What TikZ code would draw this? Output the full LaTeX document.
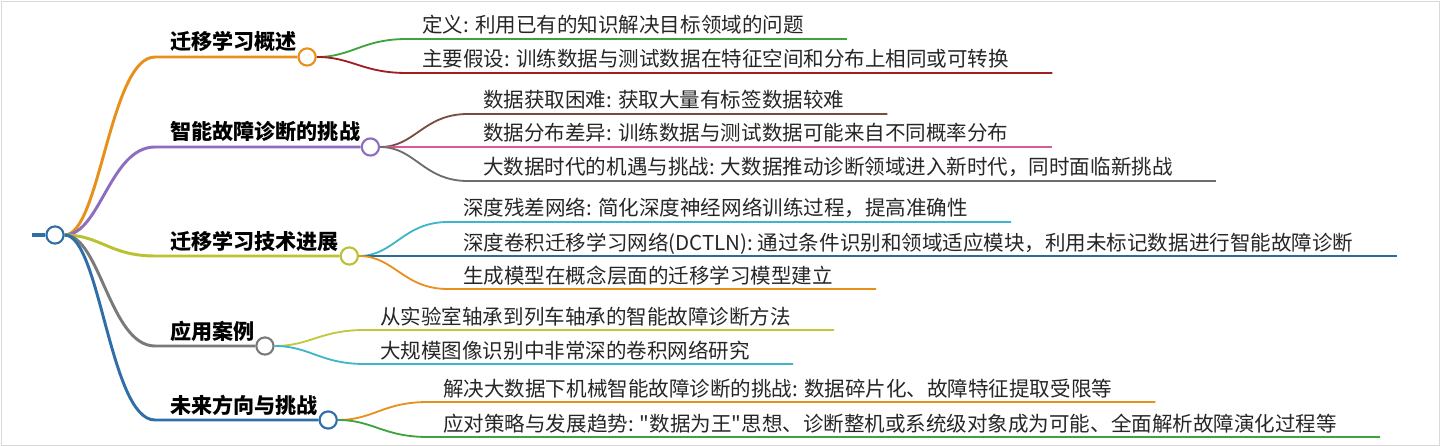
\documentclass[tikz,border=0pt]{standalone}
\usepackage{fontspec}
\setmainfont{Noto Sans CJK SC}[Ligatures=TeXOff]
\definecolor{rootblue}{HTML}{2F6EA6}
\definecolor{ochre}{HTML}{E8901C}
\definecolor{lilac}{HTML}{8E6CBE}
\definecolor{olive}{HTML}{B9C232}
\definecolor{slate}{HTML}{7A7A7A}
\definecolor{leafgreen}{HTML}{3DA33D}
\definecolor{wine}{HTML}{A01E22}
\definecolor{umber}{HTML}{7A4C3E}
\definecolor{rose}{HTML}{D85A9C}
\definecolor{ash}{HTML}{6C6C6C}
\definecolor{teal}{HTML}{3CB6C8}
\definecolor{navy}{HTML}{2C6A9E}
\definecolor{lime}{HTML}{C2C83C}

\begin{document}
\begin{tikzpicture}[x=0.025cm, y=-0.025cm,
    title/.style={anchor=base west, inner sep=0pt, font=\fontsize{15}{18}\selectfont\bfseries, text=black},
    leaf/.style={anchor=base west, inner sep=0pt, font=\fontsize{14.6}{17}\selectfont, text=black!85},
    dot/.style={circle, draw=#1, fill=white, line width=1.5pt, minimum size=0.43cm, inner sep=0pt},
    limb/.style={draw=#1, line width=2.1pt},
    twig/.style={draw=#1, line width=1.3pt}]
    \useasboundingbox (0,0) rectangle (1440,446);
    \draw [black!15, line width=0.6pt] (1,1) rectangle (1439,445);

    \coordinate (tail) at (32,235);
    \node [dot=rootblue] (root) at (55,235) {};
    \draw [rootblue, line width=2.9pt] (tail) -- (root);

    \node [title] (t1) at (170,50) {迁移学习概述};
    \node [title] (t2) at (170,140) {智能故障诊断的挑战};
    \node [title] (t3) at (170,249) {迁移学习技术进展};
    \node [title] (t4) at (170,339) {应用案例};
    \node [title] (t5) at (170,413) {未来方向与挑战};

    \node [dot=ochre] (c1) at ([shift={(10,7)}]t1.base east) {};
    \node [dot=lilac] (c2) at ([shift={(10,7)}]t2.base east) {};
    \node [dot=olive] (c3) at ([shift={(10,7)}]t3.base east) {};
    \node [dot=slate] (c4) at ([shift={(10,7)}]t4.base east) {};
    \node [dot=rootblue] (c5) at ([shift={(10,7)}]t5.base east) {};

    \draw [limb=ochre] (root) .. controls +(45,0) and +(-45,0) .. ([shift={(-15,7)}]t1.base west) -- (c1);
    \draw [limb=lilac] (root) .. controls +(45,0) and +(-45,0) .. ([shift={(-15,7)}]t2.base west) -- (c2);
    \draw [limb=olive] (root) .. controls +(45,0) and +(-45,0) .. ([shift={(-15,7)}]t3.base west) -- (c3);
    \draw [limb=slate] (root) .. controls +(45,0) and +(-45,0) .. ([shift={(-15,7)}]t4.base west) -- (c4);
    \draw [limb=rootblue] (root) .. controls +(45,0) and +(-45,0) .. ([shift={(-15,7)}]t5.base west) -- (c5);

    \node [leaf] (d11) at (422,33) {定义: 利用已有的知识解决目标领域的问题};
    \node [leaf] (d12) at (422,67) {主要假设: 训练数据与测试数据在特征空间和分布上相同或可转换};

    \node [leaf] (d21) at (483,108) {数据获取困难: 获取大量有标签数据较难};
    \node [leaf] (d22) at (483,141) {数据分布差异: 训练数据与测试数据可能来自不同概率分布};
    \node [leaf] (d23) at (483,175) {大数据时代的机遇与挑战: 大数据推动诊断领域进入新时代，同时面临新挑战};

    \node [leaf] (d31) at (463,216) {深度残差网络: 简化深度神经网络训练过程，提高准确性};
    \node [leaf] (d32) at (463,250) {深度卷积迁移学习网络(DCTLN): 通过条件识别和领域适应模块，利用未标记数据进行智能故障诊断};
    \node [leaf] (d33) at (463,283) {生成模型在概念层面的迁移学习模型建立};

    \node [leaf] (d41) at (380,324) {从实验室轴承到列车轴承的智能故障诊断方法};
    \node [leaf] (d42) at (380,358) {大规模图像识别中非常深的卷积网络研究};

    \node [leaf] (d51) at (443,396) {解决大数据下机械智能故障诊断的挑战: 数据碎片化、故障特征提取受限等};
    \node [leaf] (d52) at (443,431) {应对策略与发展趋势: "数据为王"思想、诊断整机或系统级对象成为可能、全面解析故障演化过程等};

    \draw [twig=leafgreen] (c1) .. controls +(45,0) and +(-45,0) .. ([shift={(-15,6)}]d11.base west) -- ([shift={(43,6)}]d11.base east);
    \draw [twig=wine] (c1) .. controls +(45,0) and +(-45,0) .. ([shift={(-15,6)}]d12.base west) -- ([shift={(43,6)}]d12.base east);

    \draw [twig=umber] (c2) .. controls +(45,0) and +(-45,0) .. ([shift={(-15,6)}]d21.base west) -- ([shift={(43,6)}]d21.base east);
    \draw [twig=rose] (c2) .. controls +(45,0) and +(-45,0) .. ([shift={(-15,6)}]d22.base west) -- ([shift={(43,6)}]d22.base east);
    \draw [twig=ash] (c2) .. controls +(45,0) and +(-45,0) .. ([shift={(-15,6)}]d23.base west) -- ([shift={(43,6)}]d23.base east);

    \draw [twig=teal] (c3) .. controls +(45,0) and +(-45,0) .. ([shift={(-15,6)}]d31.base west) -- ([shift={(43,6)}]d31.base east);
    \draw [twig=navy] (c3) .. controls +(45,0) and +(-45,0) .. ([shift={(-15,6)}]d32.base west) -- ([shift={(43,6)}]d32.base east);
    \draw [twig=ochre] (c3) .. controls +(45,0) and +(-45,0) .. ([shift={(-15,6)}]d33.base west) -- ([shift={(43,6)}]d33.base east);

    \draw [twig=lime] (c4) .. controls +(45,0) and +(-45,0) .. ([shift={(-15,6)}]d41.base west) -- ([shift={(43,6)}]d41.base east);
    \draw [twig=teal] (c4) .. controls +(45,0) and +(-45,0) .. ([shift={(-15,6)}]d42.base west) -- ([shift={(43,6)}]d42.base east);

    \draw [twig=ochre] (c5) .. controls +(45,0) and +(-45,0) .. ([shift={(-15,6)}]d51.base west) -- ([shift={(43,6)}]d51.base east);
    \draw [twig=leafgreen] (c5) .. controls +(45,0) and +(-45,0) .. ([shift={(-15,6)}]d52.base west) -- ([shift={(43,6)}]d52.base east);
\end{tikzpicture}
\end{document}
